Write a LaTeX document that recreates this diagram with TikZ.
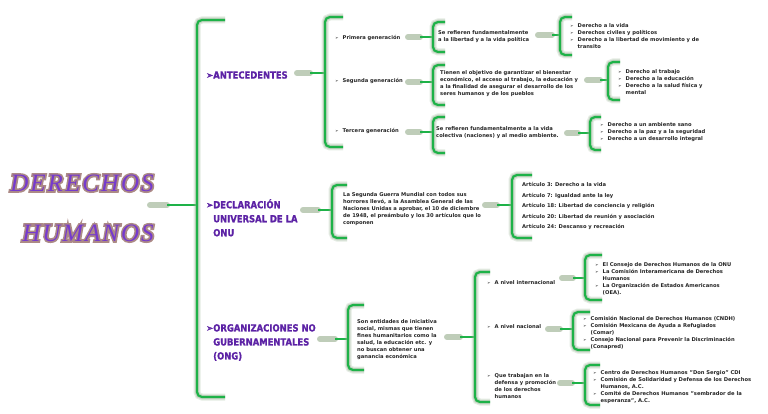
\documentclass[tikz,border=0pt]{standalone}
\usepackage{fontspec}
\usetikzlibrary{calc}
\setmainfont{DejaVu Sans}
\newfontfamily\tfont[LetterSpace=8]{Liberation Serif}
\newfontfamily\tgfont[LetterSpace=8,FakeBold=13]{Liberation Serif}
\newfontfamily\secfont[FakeStretch=0.86,FakeBold=1.2]{DejaVu Sans}
\definecolor{brgreen}{RGB}{30,178,72}
\definecolor{glowc}{RGB}{150,178,145}
\definecolor{barc}{RGB}{185,200,178}
\definecolor{purp}{RGB}{92,34,165}
\definecolor{tpurp}{RGB}{118,58,205}
\definecolor{tglow}{RGB}{172,138,134}
\newcommand\bl{\makebox[7.5pt][l]{\scalebox{0.8}{➢}}}
\newcommand\ind{\hspace*{7.5pt}}
\newcommand\brc[4]{% x, top, bottom, stub
  \draw[glowc, line width=7pt, opacity=.25, rounded corners=5pt] (#1+#4,#2)--(#1,#2)--(#1,#3)--(#1+#4,#3);
  \draw[glowc, line width=4.5pt, opacity=.4, rounded corners=5pt] (#1+#4,#2)--(#1,#2)--(#1,#3)--(#1+#4,#3);
  \draw[brgreen, line width=2.2pt, rounded corners=5pt] (#1+#4,#2)--(#1,#2)--(#1,#3)--(#1+#4,#3);}
\newcommand\lnk[4]{% x1, x2, xbrace, y
  \draw[barc, line width=6pt, line cap=round, opacity=.9] (#1,#4)--(#2,#4);
  \draw[brgreen, line width=2pt] (#2,#4)--(#3,#4);}
\tikzset{
  txt/.style={font=\fontsize{5.2}{7}\selectfont\bfseries, align=left, inner sep=0, anchor=north west, text=black!85},
  itm/.style={font=\fontsize{5.2}{7}\selectfont\bfseries, inner sep=0, anchor=west, text=black!85},
  sec/.style={font=\fontsize{9.8}{14}\selectfont\secfont\bfseries, text=purp, align=left, inner sep=0},
  ttl/.style={font=\fontsize{25}{25}\selectfont\tfont\itshape, inner sep=0, text=tpurp},
  ttlg/.style={font=\fontsize{25}{25}\selectfont\tgfont\itshape, inner sep=0, text=tglow},
}
\begin{document}
\begin{tikzpicture}[x=1pt,y=-1pt]
\useasboundingbox (0,0) rectangle (768,414);
\fill[white] (0,0) rectangle (768,414);
% title with glow
\node[ttlg] (g1) at (82,183) {DERECHOS};
\node[ttlg] (g2) at (88,233) {HUMANOS};
\node[ttl] (t1) at (82,183) {DERECHOS};
\node[ttl] (t2) at (88,233) {HUMANOS};
% main brace
\lnk{150}{167}{197}{205}
\brc{197}{20}{397}{28}
% sections
\node[sec, anchor=west] (s1) at (206,75) {➢ANTECEDENTES};
\node[sec, anchor=north west] (s2) at (206,199) {➢DECLARACIÓN\\\hphantom{➢}UNIVERSAL DE LA\\\hphantom{➢}ONU};
\node[sec, anchor=north west] (s3) at (206,324) {➢ORGANIZACIONES NO\\\hphantom{➢}GUBERNAMENTALES\\\hphantom{➢}(ONG)};
% ANTECEDENTES
\lnk{297}{310}{325}{73}
\brc{325}{17}{147}{18}
\node[itm] (p1) at (335,38) {\bl Primera generación};
\node[itm] (p2) at (335,81) {\bl Segunda generación};
\node[itm] (p3) at (335,131) {\bl Tercera generación};
% primera
\lnk{408}{420}{433}{37}
\brc{433}{22}{52}{12}
\node[txt] (a1) at (438,30.5) {Se refieren fundamentalmente\\a la libertad y a la vida política};
\lnk{538}{552}{560}{35}
\brc{560}{17}{55}{12}
\node[txt] (l1) at (570,23.5) {\bl Derecho a la vida\\\bl Derechos civiles y políticos\\\bl Derecho a la libertad de movimiento y de\\\ind transito};
% segunda
\lnk{408}{420}{433}{82}
\brc{433}{65}{105}{12}
\node[txt] (a2) at (440,70.5) {Tienen el objetivo de garantizar el bienestar\\económico, el acceso al trabajo, la educación y\\a la finalidad de asegurar el desarrollo de los\\seres humanos y de los pueblos};
\lnk{587}{600}{608}{80}
\brc{608}{62}{100}{12}
\node[txt] (l2) at (618,69.5) {\bl Derecho al trabajo\\\bl Derecho a la educación\\\bl Derecho a la salud física y\\\ind mental};
% tercera
\lnk{408}{420}{433}{132}
\brc{433}{117}{153}{12}
\node[txt] (a3) at (436,126.5) {Se refieren fundamentalmente a la vida\\colectiva (naciones) y al medio ambiente.};
\lnk{567}{578}{590}{133}
\brc{590}{117}{150}{11}
\node[txt] (l3) at (600,122.5) {\bl Derecho a un ambiente sano\\\bl Derecho a la paz y a la seguridad\\\bl Derecho a un desarrollo integral};
% DECLARACION
\lnk{303}{318}{332}{210}
\brc{332}{185}{238}{15}
\node[txt] (d1) at (343,192.5) {La Segunda Guerra Mundial con todos sus\\horrores llevó, a la Asamblea General de las\\Naciones Unidas a aprobar, el 10 de diciembre\\de 1948, el preámbulo y los 30 artículos que lo\\componen};
\lnk{485}{497}{512}{205}
\brc{512}{175}{238}{20}
\node[txt, font=\fontsize{5.2}{10.5}\selectfont\bfseries] (d2) at (522,182.5) {Artículo 3: Derecho a la vida\\Artículo 7: Igualdad ante la ley\\Artículo 18: Libertad de conciencia y religión\\Artículo 20: Libertad de reunión y asociación\\Artículo 24: Descanso y recreación};
% ONG
\lnk{320}{335}{348}{339}
\brc{348}{305}{370}{16}
\node[txt] (o1) at (357,319.5) {Son entidades de iniciativa\\social, mismas que tienen\\fines humanitarios como la\\salud, la educación etc. y\\no buscan obtener una\\ganancia económica};
\lnk{447}{460}{475}{337}
\brc{475}{272}{402}{15}
\node[itm] (n1) at (487,283) {\bl A nivel internacional};
\node[itm] (n2) at (487,327) {\bl A nivel nacional};
\node[txt] (n3) at (487,373.5) {\bl Que trabajan en la\\\ind defensa y promoción\\\ind de los derechos\\\ind humanos};
\lnk{562}{573}{585}{278}
\brc{585}{255}{300}{17}
\node[txt] (m1) at (595,262.5) {\bl El Consejo de Derechos Humanos de la ONU\\\bl La Comisión Interamericana de Derechos\\\ind Humanos\\\bl La Organización de Estados Americanos\\\ind (OEA).};
\lnk{548}{560}{573}{329}
\brc{573}{312}{350}{17}
\node[txt] (m2) at (583,316.5) {\bl Comisión Nacional de Derechos Humanos (CNDH)\\\bl Comisión Mexicana de Ayuda a Refugiados\\\ind (Comar)\\\bl Consejo Nacional para Prevenir la Discriminación\\\ind (Conapred)};
\lnk{560}{572}{585}{383}
\brc{585}{365}{405}{15}
\node[txt] (m3) at (593,370.5) {\bl Centro de Derechos Humanos "Don Sergio" CDI\\\bl Comisión de Solidaridad y Defensa de los Derechos\\\ind Humanos, A.C.\\\bl Comité de Derechos Humanos "sembrador de la\\\ind esperanza", A.C.};
\end{tikzpicture}
\end{document}
